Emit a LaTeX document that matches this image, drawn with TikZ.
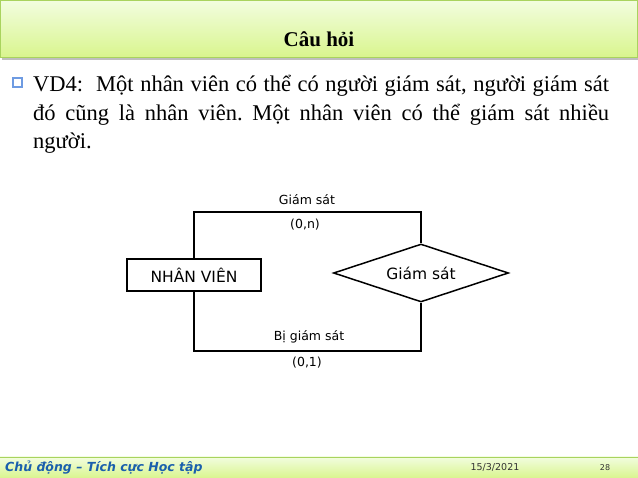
\documentclass[tikz,border=0pt]{standalone}
\usepackage{fontspec}
\setmainfont{Liberation Serif}
\newfontfamily\verdana{DejaVu Sans}
\usepackage{tikz}
\usetikzlibrary{shapes.geometric}
\frenchspacing

\definecolor{barTop}{HTML}{F2FDDF}
\definecolor{barBot}{HTML}{D9F58E}
\definecolor{barLine}{HTML}{A9D35E}
\definecolor{footBlue}{HTML}{1A5FAD}
\definecolor{bulletBlue}{HTML}{6E9BE2}

\tikzset{
  entity/.style={draw, line width=1.5pt, minimum width=134pt, minimum height=32pt,
    inner sep=0pt, font=\verdana\fontsize{15.5}{18}\selectfont},
  relation/.style={draw, diamond, shape aspect=3, line width=1.5pt,
    minimum width=175pt, minimum height=58pt, inner sep=0pt,
    font=\verdana\fontsize{15.5}{18}\selectfont},
  link/.style={line width=1.5pt},
  role/.style={font=\verdana\fontsize{12.5}{15}\selectfont, inner sep=0pt}
}

\begin{document}
\begin{tikzpicture}[x=1pt,y=-1pt]
  \useasboundingbox (0,0) rectangle (638,478);

  % title bar
  \fill[black!25] (2,56) rectangle (638,60);
  \shade[top color=barTop, bottom color=barBot, draw=barLine, line width=0.8pt]
    (0.5,0.5) rectangle (637.5,57);
  \node[font=\bfseries\fontsize{21}{24}\selectfont] (title) at (319,39) {Câu hỏi};

  % question text
  \draw[bulletBlue, fill=white, line width=1.6pt] (13,78) rectangle (22,87);
  \node[anchor=base west, text width=576pt, align=justify, inner sep=0pt,
    font=\fontsize{22.5}{28.5}\selectfont] (question) at (33,92)
    {VD4:\ \ Một nhân viên có thể có người giám sát, người giám sát\linebreak
     đó cũng là nhân viên. Một nhân viên có thể giám sát nhiều\linebreak
     người.};

  % ER diagram
  \node[entity] (nv) at (194,275) {NHÂN VIÊN};
  \node[relation] (gs) at (421,273) {Giám sát};
  \coordinate (upper) at (0,212);
  \coordinate (lower) at (0,351);
  \draw[link] (nv.north) -- (nv.north |- upper) -- (gs.north |- upper) -- (gs.north);
  \draw[link] (nv.south) -- (nv.south |- lower) -- (gs.south |- lower) -- (gs.south);

  % role names and cardinalities
  \node[role] (r1) at (307,200) {Giám sát};
  \node[role] (c1) at (305,225) {(0,n)};
  \node[role] (r2) at (309,337) {Bị giám sát};
  \node[role] (c2) at (307,363) {(0,1)};

  % footer
  \shade[top color=barTop, bottom color=barBot] (0,457) rectangle (638,478);
  \draw[barLine, line width=0.8pt] (0,457) -- (638,457);
  \node[anchor=base west, inner sep=0pt, text=footBlue,
    font=\verdana\bfseries\itshape\fontsize{12.5}{15}\selectfont] (slogan) at (5,472)
    {Chủ động – Tích cực Học tập};
  \node[anchor=base, inner sep=0pt, text=black!80,
    font=\verdana\fontsize{9.5}{11}\selectfont] (date) at (495,471) {15/3/2021};
  \node[anchor=base, inner sep=0pt, text=black!80,
    font=\verdana\fontsize{8}{9}\selectfont] (page) at (605,471) {28};
\end{tikzpicture}
\end{document}
